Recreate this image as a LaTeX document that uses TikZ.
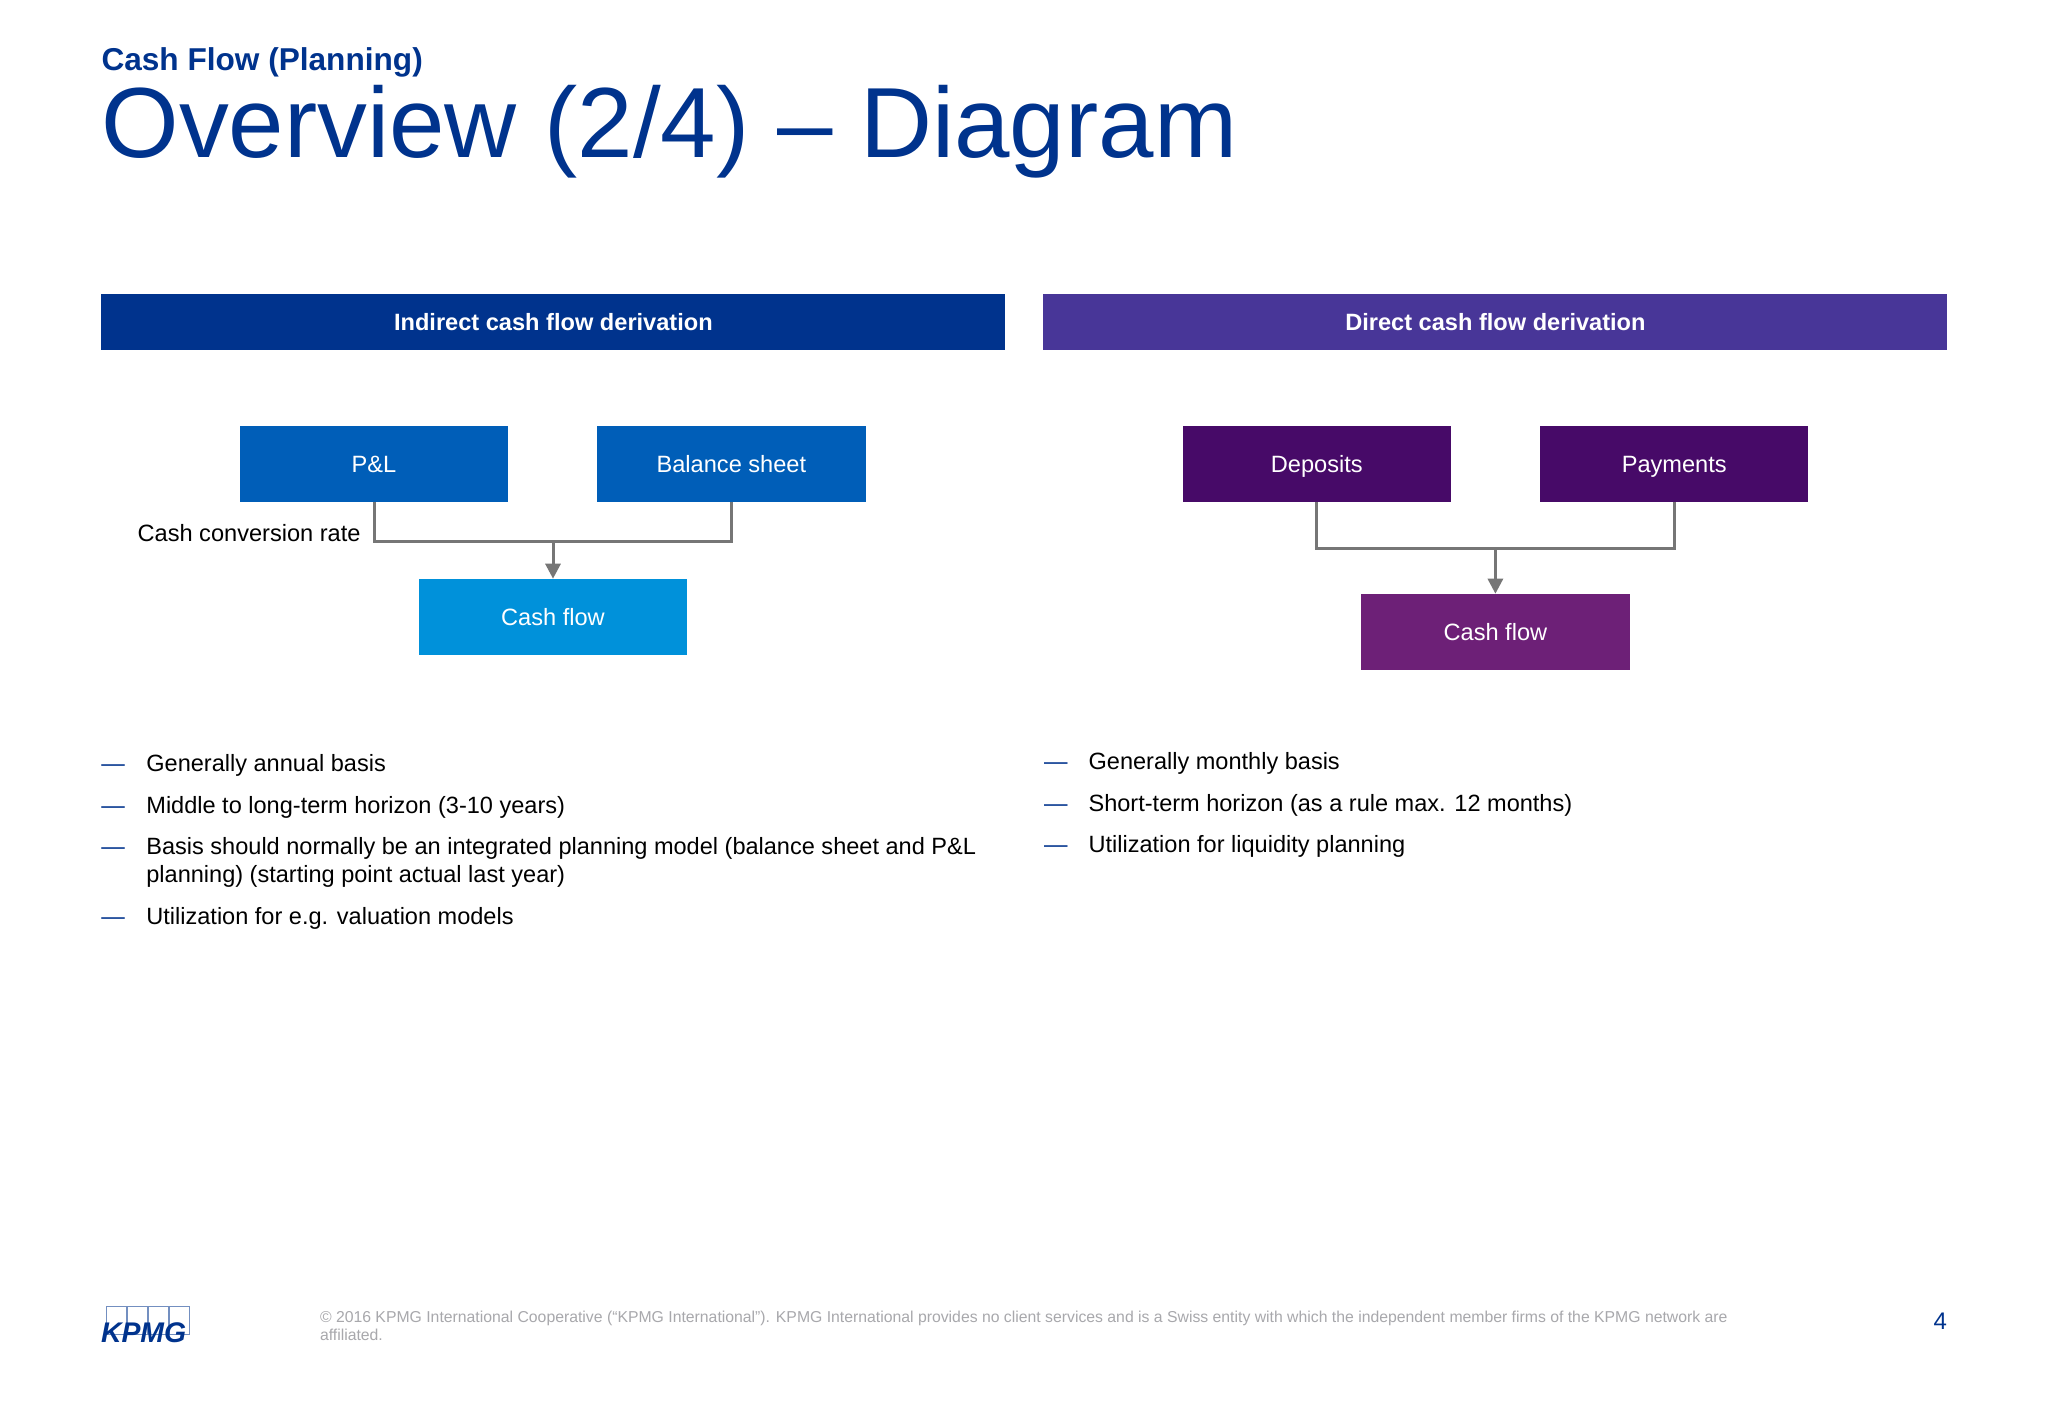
\documentclass[tikz,border=0pt]{standalone}
\usepackage{fontspec}
\setmainfont{Liberation Sans}
\usepackage{tikz}
\usetikzlibrary{arrows.meta,positioning,calc}
\definecolor{kpmgnavy}{HTML}{00338D}
\definecolor{kpmgpurple}{HTML}{483698}
\definecolor{kpmgblue}{HTML}{005EB8}
\definecolor{kpmgsky}{HTML}{0091DA}
\definecolor{kpmgplum}{HTML}{470A68}
\definecolor{kpmgviolet}{HTML}{6D2077}
\definecolor{linkgray}{HTML}{767676}
\definecolor{footgray}{HTML}{A8A8AC}

\begin{document}
\begin{tikzpicture}[x=0.5pt,y=0.5pt,
  every node/.style={inner sep=0pt,outer sep=0pt},
  header/.style={minimum width=452pt,minimum height=28pt,text=white,font=\fontsize{11.8}{14}\selectfont\bfseries,text height=8.6pt,text depth=0pt},
  stepbox/.style={minimum width=134.25pt,minimum height=37.9pt,text=white,font=\fontsize{11.8}{14}\selectfont,text height=8.6pt,text depth=0pt},
  dashmark/.style={anchor=base west,text=kpmgnavy,font=\fontsize{11.75}{14}\selectfont},
  bullet/.style={anchor=base west,align=left,font=\fontsize{11.77}{14.05}\selectfont},
  link/.style={draw=linkgray,line width=1.5pt},
  square/.style={draw=kpmgnavy!55,line width=0.5pt,minimum width=10pt,minimum height=14pt}]
\useasboundingbox [fill=white] (0,0) rectangle (2048,-1418);
% title
\node [anchor=base west,text=kpmgnavy,font=\fontsize{15.8}{18}\selectfont\bfseries] (sub) at (101.5,-70.5) {Cash Flow (Planning)};
\node [anchor=base west,text=kpmgnavy,font=\fontsize{49.85}{54}\selectfont] (title) at (101.5,-157) {Overview (2/4) – Diagram};
% headers
\node [header,fill=kpmgnavy] (ind) at (553.4,-322) {Indirect cash flow derivation};
\node [header,fill=kpmgpurple] (dir) at (1495.4,-322) {Direct cash flow derivation};
% indirect
\node [stepbox,fill=kpmgblue] (pl) at (374,-463.9) {P\&L};
\node [stepbox,fill=kpmgblue] (bs) at (731.4,-463.9) {Balance sheet};
\node [stepbox,fill=kpmgsky] (cfa) at (553,-616.6) {Cash flow};
\coordinate (ja) at (553,-541);
\draw [link] (pl.south) |- (ja);
\draw [link] (bs.south) |- (ja);
\draw [link,-{Triangle[length=7.5pt,width=7.5pt]}] (ja) -- (cfa.north);
\node [anchor=east,font=\fontsize{11.8}{14}\selectfont] (rate) at (360.6,-533) {Cash conversion rate};
% direct
\node [stepbox,fill=kpmgplum] (dep) at (1316.8,-463.9) {Deposits};
\node [stepbox,fill=kpmgplum] (pay) at (1674.2,-463.9) {Payments};
\node [stepbox,fill=kpmgviolet] (cfb) at (1495.4,-631.6) {Cash flow};
\coordinate (jb) at (1495.4,-548);
\draw [link] (dep.south) |- (jb);
\draw [link] (pay.south) |- (jb);
\draw [link,-{Triangle[length=7.5pt,width=7.5pt]}] (jb) -- (cfb.north);
% left list
\node [dashmark] (da1) at (101.3,-771.7) {—};
\node [bullet] (ba1) at (146.4,-771.7) {Generally annual basis};
\node [dashmark] (da2) at (101.3,-813) {—};
\node [bullet] (ba2) at (146.4,-813) {Middle to long-term horizon (3-10 years)};
\node [dashmark] (da3) at (101.3,-854.8) {—};
\node [bullet] (ba3) at (146.4,-882.4) {Basis should normally be an integrated planning model (balance sheet and P\&L\\planning) (starting point actual last year)};
\node [dashmark] (da4) at (101.3,-924.4) {—};
\node [bullet] (ba4) at (146.4,-924.4) {Utilization for e.g. valuation models};
% right list
\node [dashmark] (db1) at (1044,-769.2) {—};
\node [bullet] (bb1) at (1088.6,-769.2) {Generally monthly basis};
\node [dashmark] (db2) at (1044,-811) {—};
\node [bullet] (bb2) at (1088.6,-811) {Short-term horizon (as a rule max. 12 months)};
\node [dashmark] (db3) at (1044,-852.8) {—};
\node [bullet] (bb3) at (1088.6,-852.8) {Utilization for liquidity planning};
% logo
\node [square] (s1) at (116,-1320) {};
\node [square] (s2) at (137,-1320) {};
\node [square] (s3) at (158,-1320) {};
\node [square] (s4) at (179,-1320) {};
\node [anchor=base west,text=kpmgnavy,font=\fontsize{14.2}{14}\selectfont\bfseries\itshape] (logo) at (101,-1342) {KPMG};
% footer
\node [anchor=base west,align=left,text=footgray,font=\fontsize{7.89}{9.15}\selectfont] (foot) at (320,-1340.8) {© 2016 KPMG International Cooperative (“KPMG International”). KPMG International provides no client services and is a Swiss entity with which the independent member firms of the KPMG network are\\affiliated.};
\node [anchor=base east,text=kpmgnavy,font=\fontsize{12}{14}\selectfont] (page) at (1947,-1329.5) {4};
\end{tikzpicture}
\end{document}
